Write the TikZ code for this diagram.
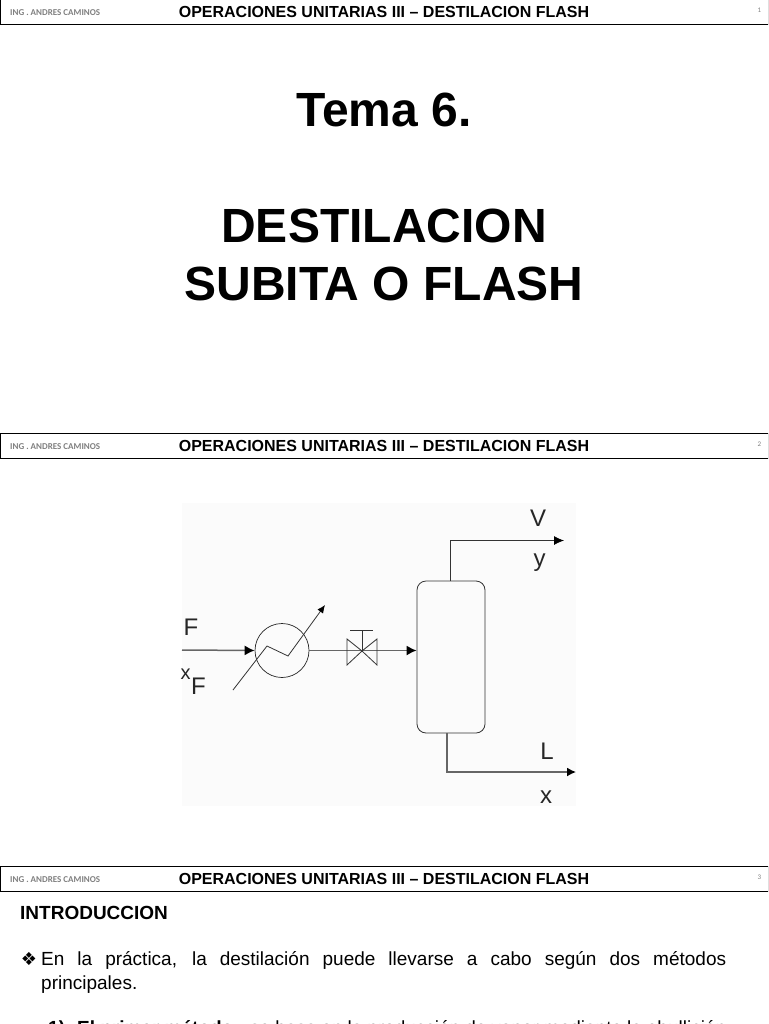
\documentclass[tikz,border=0pt]{standalone}
\usepackage{fontspec}
\setmainfont{Liberation Sans}
\newfontfamily\autorfont{Carlito}
\usetikzlibrary{positioning,arrows.meta}

\tikzset{
	barra/.style={draw=black, line width=1pt, fill=white},
	encabezado/.style={font=\fontsize{16}{16}\selectfont\bfseries, anchor=base},
	autor/.style={font=\autorfont\fontsize{9}{9}\selectfont\bfseries, text=black!50, anchor=base west, inner sep=0pt},
	pagina/.style={font=\autorfont\fontsize{7}{8}\selectfont, text=black!50, anchor=base},
	titulo/.style={font=\fontsize{48}{48}\selectfont\bfseries, anchor=base},
	rotulo/.style={font=\fontsize{24}{24}\selectfont, text=black!85, anchor=base, inner sep=0pt},
	cuerpo/.style={anchor=base west, inner sep=0pt, font=\fontsize{19}{24}\selectfont},
	corriente/.style={draw=black!60, line width=1.5pt, -{Latex[length=10pt,width=10pt,color=black]}},
	linea/.style={draw=black!80, line width=0.8pt},
}

\begin{document}
\begin{tikzpicture}[x=1pt, y=-1pt]
	\useasboundingbox (0,0) rectangle (768,1024);
	\clip (0,0) rectangle (768,1024);
	
	% Encabezados de las tres paginas
	\foreach \ytop/\num in {0/1, 433/2, 866/3}{
		\draw[barra] (0,\ytop) rectangle (768,\ytop+25);
		\node[autor] at (10,\ytop+16) {ING . ANDRES CAMINOS};
		\node[encabezado] at (384,\ytop+18) {OPERACIONES UNITARIAS III – DESTILACION FLASH};
		\node[pagina] at (759.5,\ytop+13) {\num};
	}
	
	% Titulo
	\node[titulo] (tema) at (384,127) {Tema 6.};
	\node[titulo] (destilacion) at (384,243) {DESTILACION};
	\node[titulo] (subita) at (384,300) {SUBITA O FLASH};
	
	% Fondo del esquema
	\fill[black!1.5] (182,503) rectangle (576,806);
	
	% Equipos
	\node[draw=black!80, line width=0.8pt, rounded corners=9pt, minimum width=68pt, minimum height=152pt, inner sep=0pt] (tanque) at (451,657) {};
	\node[draw=black!85, line width=0.7pt, circle, minimum size=54pt, inner sep=0pt] (calentador) at (282,650.5) {};
	\coordinate (valvula) at (362,651);
	
	% Extremos libres
	\coordinate (entrada) at (182,650);
	\coordinate (vaporA) at (450,581);
	\coordinate (vaporB) at (450,540.5);
	\coordinate (vaporC) at (564,540.5);
	\coordinate (liquidoA) at (447,733);
	\coordinate (liquidoB) at (447,772);
	\coordinate (liquidoC) at (576,772);
	\coordinate (serpA) at (233,690);
	\coordinate (serpB) at (267,646);
	\coordinate (serpC) at (288,656);
	\coordinate (serpD) at (325,605);
	
	% Corrientes
	\draw[corriente] (entrada) -- (calentador.west);
	\draw[corriente] (calentador.east) -- (tanque.west |- calentador.east);
	\draw[linea, -{Latex[length=10pt,width=9pt,color=black]}] (vaporA) -- (vaporB) -- (vaporC);
	\draw[corriente, -{Latex[length=9pt,width=9pt,color=black]}] (liquidoA) -- (liquidoB) -- (liquidoC);
	\draw[linea, -{Latex[length=8pt,width=7pt,color=black]}] (serpA) -- (serpB) -- (serpC) -- (serpD);
	
	% Valvula
	\draw[linea] (valvula) -- (347,639) -- (347,665) -- cycle;
	\draw[linea] (valvula) -- (377,639) -- (377,665) -- cycle;
	\draw[linea] (valvula) -- (362,630);
	\draw[linea] (350,630) -- (373,630);
	
	% Rotulos
	\node[rotulo] (rotF) at (191,635) {F};
	\node[rotulo, font=\fontsize{20}{20}\selectfont] (rotx) at (185.5,679) {x};
	\node[rotulo] (rotxF) at (198.5,694) {F};
	\node[rotulo] (rotV) at (538,526) {V};
	\node[rotulo] (roty) at (539.5,566) {y};
	\node[rotulo] (rotL) at (547,759) {L};
	\node[rotulo] (rotxL) at (546,803) {x};
	
	% Texto de la pagina 3
	\node[cuerpo, font=\fontsize{19}{19}\selectfont\bfseries] (intro) at (20,919) {INTRODUCCION};
	\node[anchor=base, font=\fontsize{18}{18}\selectfont, inner sep=0pt] (vineta) at (29,965) {\fontspec{DejaVu Sans}❖};
	\node[cuerpo, text width=685pt, align=justify] (parrafo) at (41,965) {En la práctica, la destilación puede llevarse a cabo según dos métodos\linebreak principales.};
	\node[cuerpo, font=\fontsize{19}{24}\selectfont\bfseries] (metodo) at (48,1034) {1)\hspace{12pt}El primer método};
	\node[cuerpo] (resto) at (250,1034) {\hbox to 476pt{se\hfill basa\hfill en\hfill la\hfill producción\hfill de\hfill vapor\hfill mediante\hfill la\hfill ebullición}};
\end{tikzpicture}
\end{document}
